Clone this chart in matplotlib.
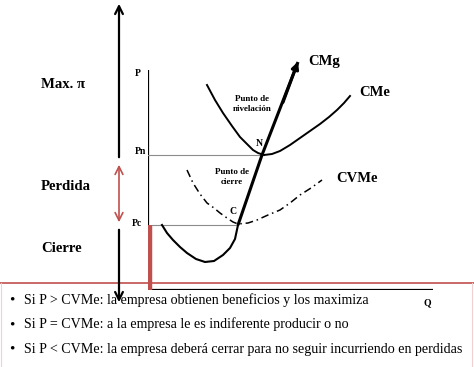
import matplotlib.pyplot as plt

plt.rcParams['font.family'] = ['Liberation Serif', 'DejaVu Serif']

# datos del diagrama (Q, P)
q_max = 285
p_max = 220
pn = 135   # precio de nivelacion
pc = 65    # precio de cierre

cmg_low_q = [14, 19, 25, 32, 39, 48, 57, 66, 75, 82, 87, 90]
cmg_low_p = [65, 57, 50, 43, 37, 31, 28, 29, 35, 42, 51, 65]
cmg_up_q = [90, 114, 150]
cmg_up_p = [65, 135, 228]

cme_q = [59, 67, 75, 84, 92, 99, 105, 110, 116, 124, 132, 142, 152, 162, 172, 181, 189, 196, 202]
cme_p = [205, 190, 177, 164, 153, 146, 140, 137, 135, 136, 139, 145, 152, 159, 166, 173, 180, 187, 194]

cvme_q = [39, 45, 52, 59, 66, 72, 79, 85, 90, 100, 109, 120, 132, 142, 152, 163, 174]
cvme_p = [120, 107, 96, 87, 82, 77, 72, 68, 66, 67, 70, 75, 80, 87, 95, 102, 110]

n_q = 116
c_q = 90

zonas = ["Max. π", "Perdida", "Cierre"]
reglas = [
    "Si P > CVMe: la empresa obtienen beneficios y los maximiza",
    "Si P = CVMe: a la empresa le es indiferente producir o no",
    "Si P < CVMe: la empresa deberá cerrar para no seguir incurriendo en perdidas",
]

rojo = '#c0504d'

fig = plt.figure(figsize=(4.74, 3.67), dpi=100)

# capa de fondo en pixeles para flechas y textos
bg = fig.add_axes([0, 0, 1, 1])
bg.set_xlim(0, 474)
bg.set_ylim(367, 0)
bg.axis('off')

# diagrama de costes
ax = fig.add_axes([148 / 474, 77 / 367, 285 / 474, 250 / 367])
ax.set_xlim(0, q_max)
ax.set_ylim(0, 250)
ax.axis('off')

ax.plot([0, 0], [0, p_max], color='black', lw=1.6, solid_capstyle='butt')
ax.plot([0, q_max], [0, 0], color='black', lw=1.6, solid_capstyle='butt')
ax.plot([2, 2], [0, pc], color=rojo, lw=3.2, solid_capstyle='butt')

ax.plot([0, n_q], [pn, pn], color='#8c8c8c', lw=0.8)
ax.plot([4, c_q], [pc, pc], color='#8c8c8c', lw=0.8)

ax.plot(cme_q, cme_p, color='black', lw=1.4)
ax.plot(cvme_q, cvme_p, color='black', lw=1.1, linestyle=(0, (5, 2.5, 1, 2.5)))
ax.plot(cmg_low_q, cmg_low_p, color='black', lw=1.5)
ax.plot(cmg_up_q, cmg_up_p, color='black', lw=2.2, solid_capstyle='butt')
ax.annotate('', xy=(cmg_up_q[-1] + 1, cmg_up_p[-1] + 3), xytext=(cmg_up_q[-2] + 20, cmg_up_p[-2] + 50),
            arrowprops=dict(arrowstyle='-|>', color='black', lw=2.2, mutation_scale=10))

fb = dict(fontweight='bold', color='black')
ax.text(cmg_up_q[-1] + 10, cmg_up_p[-1], 'CMg', fontsize=10.5, ha='left', va='center', **fb)
ax.text(cme_q[-1] + 9, cme_p[-1] + 3, 'CMe', fontsize=10.5, ha='left', va='center', **fb)
ax.text(cvme_q[-1] + 14, cvme_p[-1] + 2, 'CVMe', fontsize=10.5, ha='left', va='center', **fb)
ax.text(-10, p_max - 3, 'P', fontsize=7, ha='center', va='center', **fb)
ax.text(-2, pn + 4, 'Pn', fontsize=7, ha='right', va='center', **fb)
ax.text(-6, pc + 2, 'Pc', fontsize=7, ha='right', va='center', **fb)
ax.text(q_max - 6, -13, 'Q', fontsize=7, ha='center', va='center', **fb)
ax.text(n_q - 5, pn + 11, 'N', fontsize=7, ha='center', va='center', **fb)
ax.text(c_q - 5, pc + 13, 'C', fontsize=7, ha='center', va='center', **fb)
ax.text(104, 186, 'Punto de\nnivelación', fontsize=6.5, ha='center', va='center', linespacing=1.45, **fb)
ax.text(84, 113, 'Punto de\ncierre', fontsize=6.5, ha='center', va='center', linespacing=1.45, **fb)

# flechas de la izquierda
bg.annotate('', xy=(119, 1), xytext=(119, 160),
            arrowprops=dict(arrowstyle='->', color='black', lw=1.6, mutation_scale=14))
bg.annotate('', xy=(119, 162), xytext=(119, 225),
            arrowprops=dict(arrowstyle='<->', color=rojo, lw=1.2, mutation_scale=14))
bg.annotate('', xy=(119, 305), xytext=(119, 227),
            arrowprops=dict(arrowstyle='->', color='black', lw=1.6, mutation_scale=14))

for lab, y in zip(zonas, [85, 186, 248]):
    bg.text(41, y, lab, fontsize=10.6, fontweight='bold', ha='left', va='center')

# recuadro inferior
bg.plot([0, 474], [283, 283], color=rojo, lw=1.2)
bg.plot([0.5, 0.5], [283, 367], color='#f2d0d0', lw=0.8)
bg.plot([472, 472], [283, 367], color='#f2d0d0', lw=0.8)

for i, r in enumerate(reglas):
    y = 300 + 24.5 * i
    bg.text(9, y, '•', fontsize=11, ha='left', va='center')
    bg.text(24, y, r, fontsize=10.1, ha='left', va='center')

fig.savefig('out.png', dpi=100)
